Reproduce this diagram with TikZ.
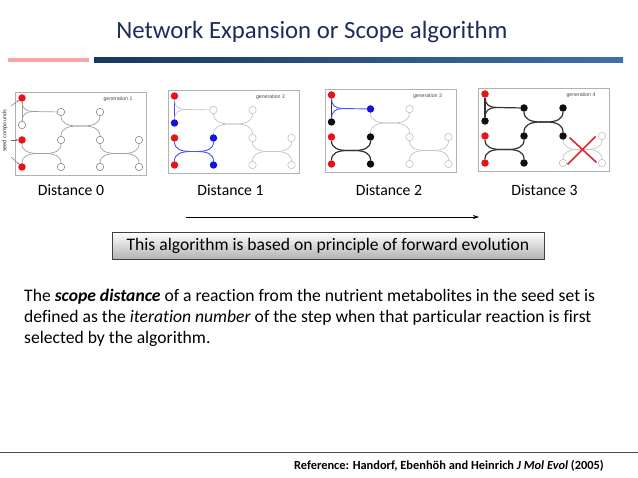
\documentclass[tikz,border=0pt]{standalone}
\usepackage{fontspec}
\setmainfont{Carlito}[Ligatures=NoCommon]
\newfontfamily\gensans{Liberation Sans}
\usetikzlibrary{calc,shadows,arrows.meta}
\pgfdeclarelayer{bg}
\pgfsetlayers{bg,main}
\definecolor{titleblue}{RGB}{31,43,94}
\definecolor{barpink}{RGB}{244,166,166}
\definecolor{bardark}{RGB}{23,55,94}
\definecolor{barlight}{RGB}{62,112,170}
\definecolor{seedred}{RGB}{230,20,25}
\definecolor{newblue}{RGB}{20,20,220}
\definecolor{oldblack}{RGB}{15,15,15}
\definecolor{inact}{RGB}{195,195,195}
\definecolor{xred}{RGB}{220,40,50}
\tikzset{
  cpd/.style={circle, minimum size=7.5pt, inner sep=0pt},
  seed/.style={cpd, fill=seedred},
  fresh/.style={cpd, fill=newblue},
  known/.style={cpd, fill=oldblack},
  unreached/.style={cpd, fill=white, draw=inact, line width=0.6pt},
  rxoff/.style={draw=inact, line width=0.7pt},
  rxnew/.style={draw=newblue!75!white, line width=0.9pt},
  rxold/.style={draw=black!80, line width=1.2pt},
  n-s2/.style={unreached}, n-a1/.style={unreached}, n-a2/.style={unreached},
  n-a3/.style={unreached}, n-b1/.style={unreached}, n-b2/.style={unreached},
  n-b3/.style={unreached}, n-d2/.style={unreached}, n-d3/.style={unreached},
  r-one/.style={rxoff}, r-two/.style={rxoff}, r-three/.style={rxoff},
  r-four/.style={rxoff}, r-five/.style={rxoff},
  panelframe/.style={draw=black!30, line width=0.5pt, minimum width=131pt,
    minimum height=83pt, anchor=north west, inner sep=0pt},
  genlabel/.style={font=\gensans\fontsize{5.2}{6}\selectfont, text=black!70},
  distlabel/.style={font=\fontsize{15.7}{18}\selectfont},
}
% crossing two-substrate / two-product reaction
\newcommand\xrx[6]{%
  \coordinate (#6) at ($(#2)!.5!(#5)$);
  \draw[#1] (#2) .. controls +(0,11) and +(-10,0) .. ($(#6)+(-3,0)$) -- ($(#6)+(3,0)$) .. controls +(10,0) and +(0,11) .. (#4);
  \draw[#1] (#3) .. controls +(0,-11) and +(-10,0) .. ($(#6)+(-3,0)$) -- ($(#6)+(3,0)$) .. controls +(10,0) and +(0,-11) .. (#5);
}
\newcommand\panelbody[2]{%
  \node[panelframe] (#1box) at (0,0) {};
  \node[genlabel] (#1gen) at (103,7) {generation #2};
  \node[seed] (#1s1) at (7,6) {};
  \node[n-s2] (#1s2) at (7,33) {};
  \node[seed] (#1s3) at (7,48) {};
  \node[seed] (#1s4) at (7,75) {};
  \node[n-a1] (#1a1) at (46,20) {};
  \node[n-a2] (#1a2) at (46,48) {};
  \node[n-a3] (#1a3) at (46,75) {};
  \node[n-b1] (#1b1) at (85,20) {};
  \node[n-b2] (#1b2) at (85,48) {};
  \node[n-b3] (#1b3) at (85,75) {};
  \node[n-d2] (#1d2) at (124,48) {};
  \node[n-d3] (#1d3) at (124,75) {};
  \begin{pgfonlayer}{bg}
    \draw[r-one] (#1s1) -- (#1s2);
    \coordinate (#1m) at ($(#1s1)!.5!(#1s2)+(11,0)$);
    \draw[r-two] (#1s1) .. controls +(0,10) and +(-7,0) .. (#1m) -- (#1a1);
    \draw[r-two] (#1s2) .. controls +(0,-10) and +(-7,0) .. (#1m);
    \xrx{r-three}{#1s3}{#1s4}{#1a2}{#1a3}{#1xa}
    \xrx{r-four}{#1a1}{#1a2}{#1b1}{#1b2}{#1xb}
    \xrx{r-five}{#1b2}{#1b3}{#1d2}{#1d3}{#1xc}
  \end{pgfonlayer}
}
\begin{document}
\begin{tikzpicture}[x=1pt,y=-1pt]
\useasboundingbox (0,0) rectangle (638,478);
% title and bars
\node[font=\fontsize{24.8}{28}\selectfont, text=titleblue] (title) at (312,32) {Network Expansion or Scope algorithm};
\fill[barpink] (8,58) rectangle (89,62.5);
\shade[left color=bardark, right color=barlight] (94,58) rectangle (623,62.5);
% panel 1
\begin{scope}[shift={(15,92)},
  unreached/.style={cpd, fill=white, draw=black!45, line width=0.6pt},
  rxoff/.style={draw=black!38, line width=0.7pt}]
  \panelbody{P}{1}
\end{scope}
\node[font=\gensans\fontsize{5.5}{6}\selectfont, rotate=90, text=black!80] (seedlab) at (5,131) {seed compounds};
\coordinate (sa) at (11,106);
\coordinate (sb) at (11,140);
\coordinate (sc) at (11,157);
\draw[black!60, line width=0.4pt, -{Stealth[length=2pt,width=1.6pt]}] (sa) -- (Ps1);
\draw[black!60, line width=0.4pt, -{Stealth[length=2pt,width=1.6pt]}] (sb) -- (Ps3);
\draw[black!60, line width=0.4pt, -{Stealth[length=2pt,width=1.6pt]}] (sc) -- (Ps4);
% panel 2
\begin{scope}[shift={(167.5,90)},
  n-s2/.style={fresh}, n-a2/.style={fresh}, n-a3/.style={fresh},
  r-one/.style={rxnew}, r-three/.style={rxnew}]
  \panelbody{Q}{2}
\end{scope}
% panel 3
\begin{scope}[shift={(324.5,89)},
  n-s2/.style={known}, n-a2/.style={known}, n-a3/.style={known}, n-a1/.style={fresh},
  r-one/.style={rxold}, r-three/.style={rxold}, r-two/.style={rxnew}]
  \panelbody{R}{3}
\end{scope}
% panel 4
\begin{scope}[shift={(478,88)},
  n-s2/.style={known}, n-a1/.style={known}, n-a2/.style={known}, n-a3/.style={known},
  n-b1/.style={known}, n-b2/.style={known},
  r-one/.style={rxold}, r-two/.style={rxold}, r-three/.style={rxold}, r-four/.style={rxold}]
  \panelbody{S}{4}
  \draw[xred, line width=1.6pt] ($(Sxc)+(-13,-12)$) -- ($(Sxc)+(14,13)$);
  \draw[xred, line width=1.6pt] ($(Sxc)+(13,-13)$) -- ($(Sxc)+(-15,15)$);
\end{scope}
% distance labels
\node[distlabel] (d0) at (71,190) {Distance 0};
\node[distlabel] (d1) at (230.5,190) {Distance 1};
\node[distlabel] (d2) at (389,190) {Distance 2};
\node[distlabel] (d3) at (544.5,190) {Distance 3};
% arrow
\coordinate (arrA) at (186,217);
\coordinate (arrB) at (479,217);
\draw[line width=0.8pt, -{Stealth[length=6pt,width=4pt]}] (arrA) -- (arrB);
% principle box
\node[draw=black!75, line width=0.7pt, top color=white, bottom color=black!30,
  minimum width=432pt, minimum height=27pt, inner sep=0pt,
  drop shadow={opacity=0.35, shadow xshift=1.2pt, shadow yshift=-1.2pt},
  font=\fontsize{17.6}{19}\selectfont] (principle) at (328,245.5)
  {This algorithm is based on principle of forward evolution};
% paragraph
\node[anchor=north west, align=left, inner sep=0pt, font=\fontsize{17.6}{21.2}\selectfont] (para) at (24,289)
  {The \textbf{\textit{scope distance}} of a reaction from the nutrient metabolites in the seed set is\\
   defined as the \textit{iteration number} of the step when that particular reaction is first\\
   selected by the algorithm.};
% footer
\draw[black!70, line width=1pt] (0,453) -- (638,453);
\node[font=\bfseries\fontsize{12.4}{14}\selectfont] (ref) at (449,466)
  {Reference: Handorf, Ebenhöh and Heinrich \textit{J Mol Evol} (2005)};
\end{tikzpicture}
\end{document}
